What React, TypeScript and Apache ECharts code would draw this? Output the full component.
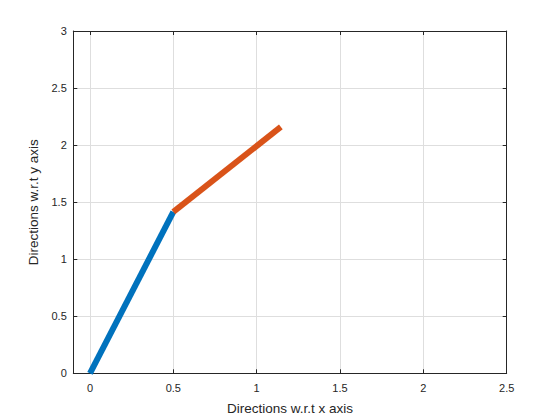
import React, { useEffect, useRef } from 'react';
import * as echarts from 'echarts';

// first segment (blue) and second segment (red), as [x, y] points
const firstSegment: number[][] = [
  [0, 0],
  [0.5, 1.414],
];
const secondSegment: number[][] = [
  [0.5, 1.414],
  [1.145, 2.16],
];
const xTicks = [0, 0.5, 1, 1.5, 2, 2.5];
const xName = 'Directions w.r.t x axis';
const yName = 'Directions w.r.t y axis';

const axisColor = '#262626';
const gridColor = '#dedede';
const font = '"Liberation Sans", Arial, Helvetica, sans-serif';

const App: React.FC = () => {
  const chartRef = useRef<HTMLDivElement>(null);

  useEffect(() => {
    document.body.style.margin = '0';
    if (!chartRef.current) return;
    const chart = echarts.init(chartRef.current, undefined, { renderer: 'svg' });

    const boxAxis = {
      axisLine: { show: true, onZero: false, lineStyle: { color: axisColor, width: 1 } },
      axisTick: { show: true, inside: true, length: 4, lineStyle: { color: axisColor } },
      axisLabel: { show: false },
      splitLine: { show: false },
    };

    const option = {
      animation: false,
      backgroundColor: '#ffffff',
      textStyle: { fontFamily: font },
      grid: {
        left: 73.3,
        right: 53.3,
        top: 31,
        bottom: 46.7,
        containLabel: false,
        outerBoundsMode: 'none',
      },
      xAxis: [
        {
          type: 'value',
          min: -0.1,
          max: 2.5,
          name: xName,
          nameLocation: 'middle',
          nameGap: 28,
          nameTextStyle: { color: axisColor, fontSize: 13.5, fontFamily: font },
          axisLine: { show: true, onZero: false, lineStyle: { color: axisColor, width: 1 } },
          axisTick: {
            show: true,
            inside: true,
            length: 4,
            customValues: xTicks,
            lineStyle: { color: axisColor },
          },
          axisLabel: {
            show: true,
            margin: 9.5,
            color: axisColor,
            fontSize: 11,
            fontFamily: font,
            customValues: xTicks,
            formatter: (v: number) => String(v),
          },
          splitLine: { show: true, lineStyle: { color: gridColor, width: 1 } },
        },
        {
          type: 'value',
          position: 'top',
          min: -0.1,
          max: 2.5,
          ...boxAxis,
          axisTick: { ...boxAxis.axisTick, customValues: xTicks },
        },
      ],
      yAxis: [
        {
          type: 'value',
          min: 0,
          max: 3,
          interval: 0.5,
          name: yName,
          nameLocation: 'middle',
          nameGap: 28,
          nameTextStyle: { color: axisColor, fontSize: 13.5, fontFamily: font },
          axisLine: { show: true, onZero: false, lineStyle: { color: axisColor, width: 1 } },
          axisTick: { show: true, inside: true, length: 4, lineStyle: { color: axisColor } },
          axisLabel: {
            show: true,
            margin: 6.5,
            color: axisColor,
            fontSize: 11,
            fontFamily: font,
            formatter: (v: number) => String(v),
          },
          splitLine: { show: true, lineStyle: { color: gridColor, width: 1 } },
        },
        {
          type: 'value',
          position: 'right',
          min: 0,
          max: 3,
          interval: 0.5,
          ...boxAxis,
        },
      ],
      series: [
        {
          type: 'line',
          data: firstSegment,
          showSymbol: false,
          symbol: 'none',
          lineStyle: { color: '#0072BD', width: 6, cap: 'butt' },
          z: 3,
        },
        {
          type: 'line',
          data: secondSegment,
          showSymbol: false,
          symbol: 'none',
          lineStyle: { color: '#D95319', width: 6, cap: 'butt' },
          z: 4,
        },
      ],
    };

    chart.setOption(option);
    return () => {
      chart.dispose();
    };
  }, []);

  return <div ref={chartRef} style={{ width: 560, height: 420 }} />;
};

export default App;
